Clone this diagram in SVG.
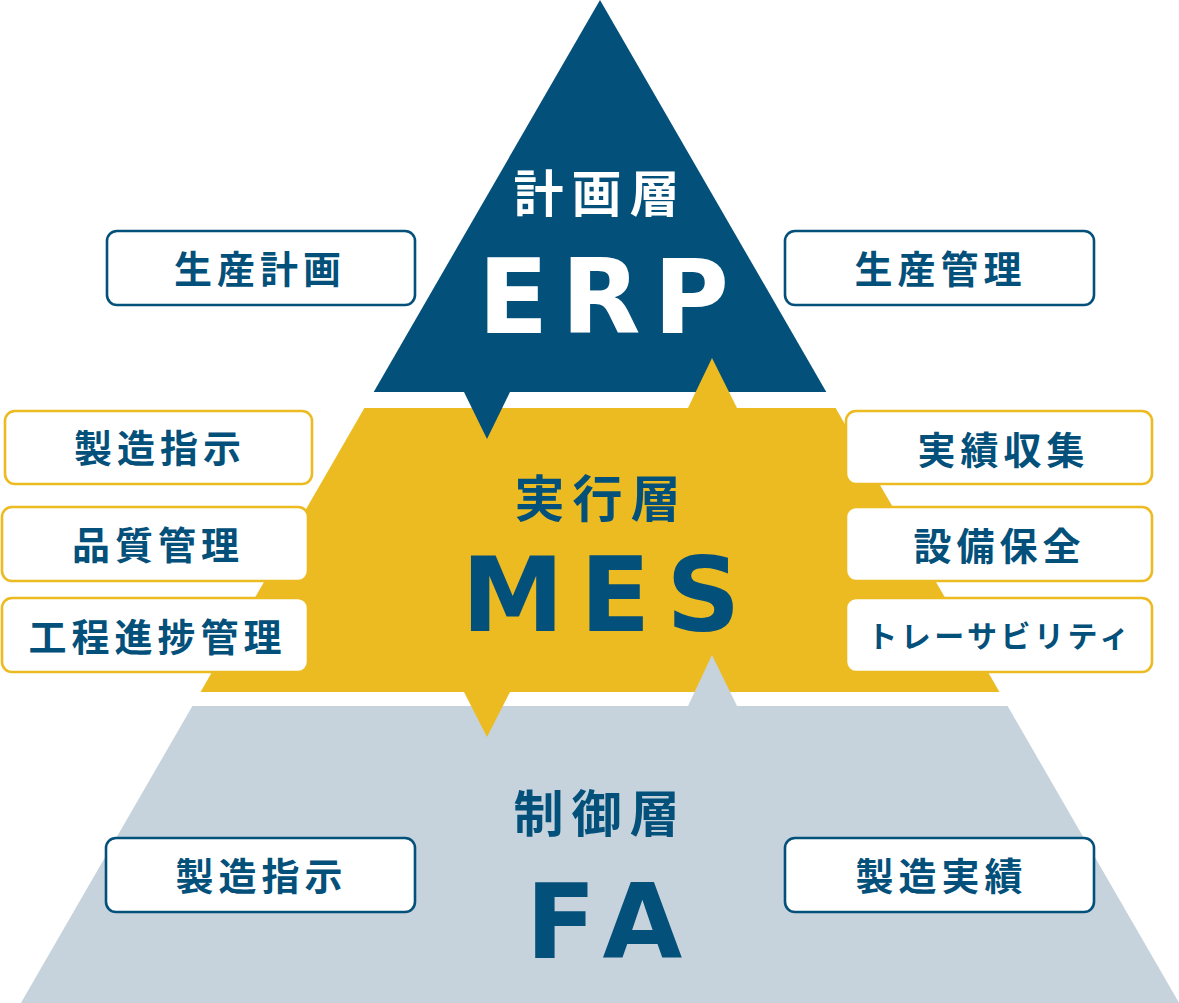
<svg xmlns="http://www.w3.org/2000/svg" width="1179" height="1003" viewBox="0 0 1179 1003">
<style>
.blue{fill:#03507a}
.yel{fill:#ecbb22}
.gray{fill:#c6d3dc}
.box rect{fill:#ffffff;stroke-width:2.6}
.bbox rect{stroke:#03507a}
.ybox rect{stroke:#ecbb22}
.lbl{font-family:"Noto Sans CJK JP","Noto Sans",sans-serif;font-weight:700;font-size:38px;letter-spacing:5px;fill:#03507a;text-anchor:middle}
.lbl.sm{font-size:30px;letter-spacing:3.5px}
.ttl{font-family:"Noto Sans CJK JP","Noto Sans",sans-serif;font-weight:700;font-size:50px;letter-spacing:8px;text-anchor:middle}
.big{font-family:"DejaVu Sans","Noto Sans",sans-serif;font-weight:700;font-size:103px;text-anchor:middle}
</style>
<rect width="1179" height="1003" fill="#ffffff"/>
<g id="layer-fa">
<polygon class="gray" points="192.4,706 1007.6,706 1179.1,1003 20.9,1003"/>
</g>
<g id="layer-mes">
<polygon class="yel" points="364.4,408 835.6,408 999.5,692 200.5,692"/>
</g>
<g id="layer-erp">
<polygon class="blue" points="600,0 826.3,392 373.7,392"/>
</g>
<g id="connectors">
<polygon class="blue" points="464,392 510,392 487,439"/>
<polygon class="yel" points="688,408 737,408 712,358"/>
<polygon class="yel" points="464,692 510,692 487,737"/>
<polygon class="gray" points="688,706 737,706 712,655"/>
</g>
<g id="title-erp">
<text class="ttl" x="600.5" y="211.5" fill="#ffffff">計画層</text>
<text class="big" x="610" y="333" fill="#ffffff" letter-spacing="13">ERP</text>
</g>
<g id="title-mes">
<text class="ttl" x="601.5" y="517" fill="#03507a">実行層</text>
<text class="big" x="609" y="631" fill="#03507a" letter-spacing="16">MES</text>
</g>
<g id="title-fa">
<text class="ttl" x="600.5" y="832" fill="#03507a">制御層</text>
<text class="big" x="613" y="958" fill="#03507a" letter-spacing="18">FA</text>
</g>
<g id="box-seisan-keikaku" class="box bbox">
<rect x="107" y="231" width="308" height="74" rx="10"/>
<text class="lbl" x="260" y="283.4">生産計画</text>
</g>
<g id="box-seisan-kanri" class="box bbox">
<rect x="785" y="231" width="309" height="74" rx="10"/>
<text class="lbl" x="940.5" y="283.4">生産管理</text>
</g>
<g id="box-mes-seizou-shiji" class="box ybox">
<rect x="5" y="411" width="307" height="73" rx="10"/>
<text class="lbl" x="160" y="462.4">製造指示</text>
</g>
<g id="box-hinshitsu" class="box ybox">
<rect x="2" y="507" width="306" height="74" rx="10"/>
<text class="lbl" x="158" y="559">品質管理</text>
</g>
<g id="box-koutei" class="box ybox">
<rect x="2" y="598" width="306" height="74" rx="10"/>
<text class="lbl" x="157.5" y="651">工程進捗管理</text>
</g>
<g id="box-jisseki-shushu" class="box ybox">
<rect x="846" y="411" width="306" height="73" rx="10"/>
<text class="lbl" x="1003.5" y="464">実績収集</text>
</g>
<g id="box-setsubi" class="box ybox">
<rect x="846" y="507" width="306" height="74" rx="10"/>
<text class="lbl" x="999.5" y="559.5">設備保全</text>
</g>
<g id="box-trace" class="box ybox">
<rect x="846" y="598" width="306" height="74" rx="10"/>
<text class="lbl sm" x="1000" y="647">トレーサビリティ</text>
</g>
<g id="box-fa-seizou-shiji" class="box bbox">
<rect x="106" y="838" width="309" height="74" rx="10"/>
<text class="lbl" x="261.5" y="889.5">製造指示</text>
</g>
<g id="box-seizou-jisseki" class="box bbox">
<rect x="785" y="838" width="309" height="74" rx="10"/>
<text class="lbl" x="941.5" y="889.5">製造実績</text>
</g>
</svg>
